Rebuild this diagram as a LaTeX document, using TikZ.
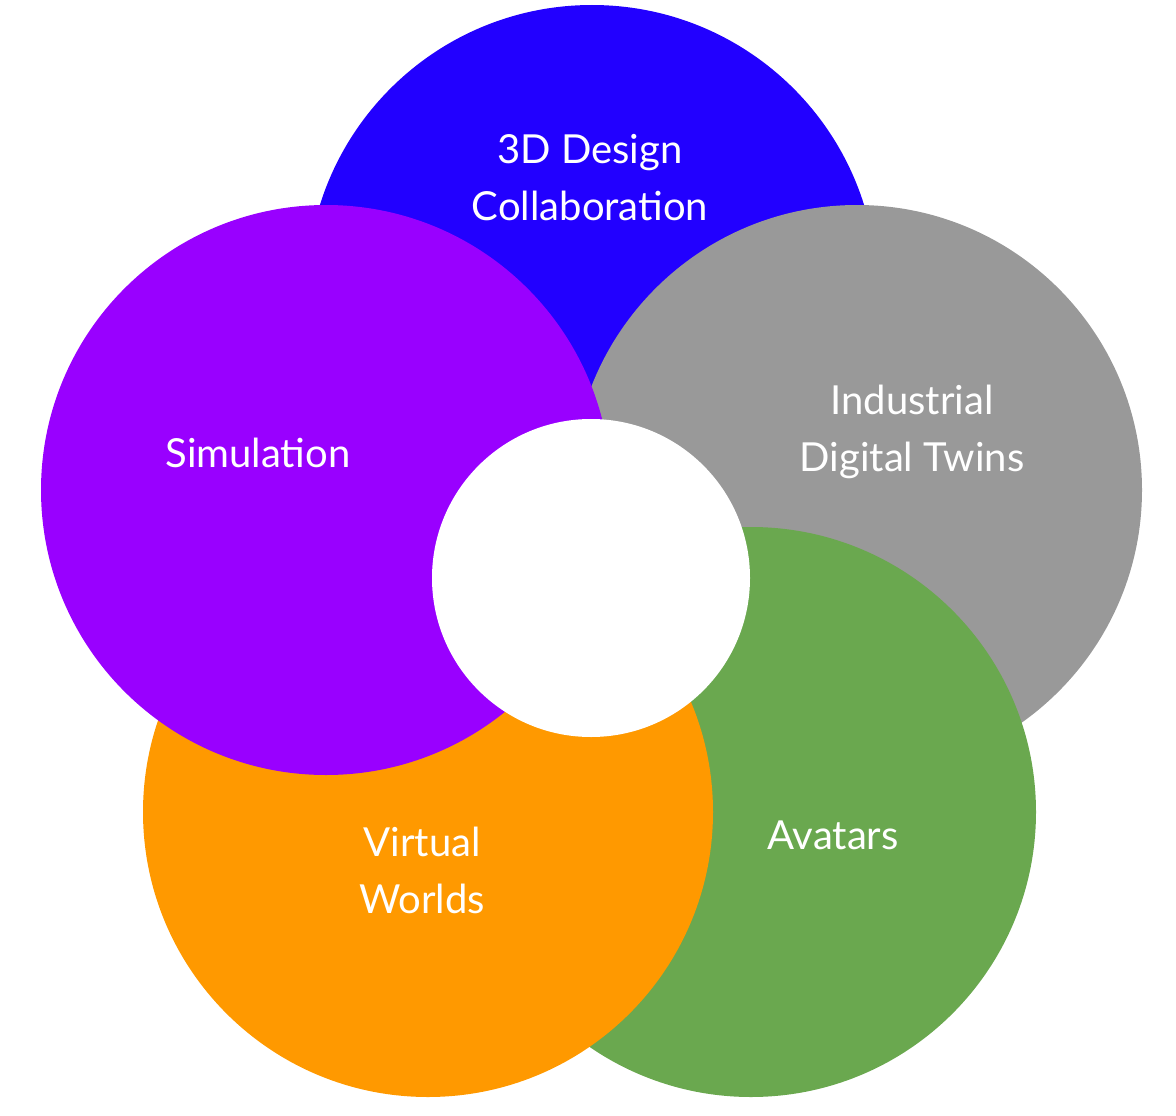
\documentclass[tikz,border=0pt]{standalone}
\usepackage{fontspec}
\setmainfont{Lato}
\definecolor{cblue}{HTML}{2200FF}
\definecolor{cpurple}{HTML}{9900FF}
\definecolor{cgray}{HTML}{999999}
\definecolor{cgreen}{HTML}{6AA84F}
\definecolor{corange}{HTML}{FF9900}
\begin{document}
\begin{tikzpicture}[x=1pt,y=-1pt,
  petal/.style={circle,minimum size=570pt,inner sep=0pt},
  lbl/.style={text=white,font=\fontsize{40}{57}\selectfont,align=center}]
\useasboundingbox (0,0) rectangle (1176,1116);
\node[petal,fill=cblue] (blue) at (592,290) {};
\node[petal,fill=cgray] (gray) at (857,490) {};
\node[petal,fill=cgreen] (green) at (751,812) {};
\node[petal,fill=corange] (orange) at (428,812) {};
\node[petal,fill=cpurple] (purple) at (326,490) {};
\node[circle,fill=white,minimum size=318pt,inner sep=0pt] (hub) at (591,578) {};
\node[lbl] (t1) at (590,178) {3D Design\\Collaboration};
\node[lbl] (t2) at (258,453) {Simulation};
\node[lbl] (t3) at (912,432) {Industrial\\Digital Twins};
\node[lbl] (t4) at (833,835) {Avatars};
\node[lbl] (t5) at (422,870) {Virtual\\Worlds};
\end{tikzpicture}
\end{document}
